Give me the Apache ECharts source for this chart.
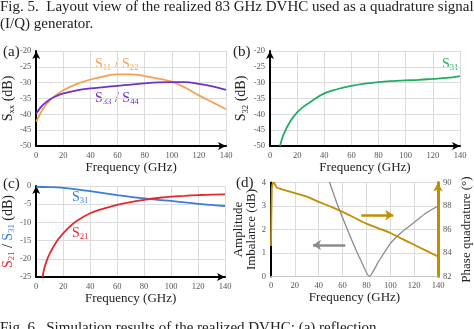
<!DOCTYPE html>
<html><head><meta charset="utf-8">
<script src="https://cdn.jsdelivr.net/npm/echarts@6/dist/echarts.min.js"></script>
<style>html,body{margin:0;padding:0;background:#fff}#c{width:474px;height:329px}</style>
</head><body><div id="c"></div>
<script>
// ---- data ----
const freqTicks = [0, 20, 40, 60, 80, 100, 120, 140];
// (a) reflection
const fA = [0, 2, 5, 10, 15, 20, 30, 40, 50, 60, 70, 80, 90, 100, 110, 120, 130, 140];
const s11 = [-42.3, -40.6, -38.3, -35.6, -33.8, -32.4, -30.4, -29.0, -28.0, -27.4, -27.4, -27.9, -28.7, -29.7, -31.6, -34.0, -36.2, -38.4];
const s33 = [-39.7, -38.5, -37.0, -35.3, -34.2, -33.4, -32.4, -31.8, -31.4, -31.0, -30.6, -30.2, -29.9, -29.8, -29.8, -30.4, -31.2, -32.3];
// (b) isolation
const fB = [7.4, 10, 15, 20, 25, 30, 40, 50, 60, 70, 80, 90, 100, 110, 120, 130, 140];
const s31b = [-50, -46.3, -42.2, -39.4, -37.5, -36.0, -33.4, -32.0, -31.0, -30.3, -29.8, -29.5, -29.3, -29.1, -28.8, -28.5, -27.9];
// (c) transmission
const fC1 = [0, 10, 20, 30, 40, 50, 60, 70, 80, 90, 100, 110, 120, 130, 140];
const s31c = [-0.2, -0.3, -0.5, -0.9, -1.4, -1.95, -2.5, -3.0, -3.4, -3.8, -4.1, -4.5, -4.9, -5.2, -5.5];
const fC2 = [4.7, 6, 8, 10, 15, 20, 25, 30, 40, 50, 60, 70, 80, 90, 100, 110, 120, 130, 140];
const s21c = [-25, -22.6, -20.3, -18.6, -15.3, -13.0, -11.1, -9.6, -7.5, -6.2, -5.2, -4.4, -3.8, -3.3, -2.9, -2.7, -2.5, -2.35, -2.3];
// (d) amplitude imbalance and phase
const fD1 = [48.5, 55, 60, 65, 70, 75, 82.5, 90, 100, 110, 120, 130, 140];
const ampImb = [4.1, 3.15, 2.5, 1.88, 1.28, 0.72, 0, 0.62, 1.4, 1.9, 2.3, 2.7, 3.0];
const fD2 = [0, 0.7, 1.5, 2.5, 3.5, 5, 10, 20, 30, 40, 50, 60, 70, 80, 90, 100, 110, 120, 130, 140];
const phase = [84.6, 89.5, 89.95, 90.0, 89.8, 89.55, 89.4, 89.1, 88.8, 88.35, 87.95, 87.5, 87.0, 86.5, 86.1, 85.7, 85.2, 84.7, 84.2, 83.7];

const zip = (x, y) => x.map((v, i) => [v, y[i]]);

const SERIF = 'Liberation Serif';
const C = {orange:'#F4A251', purple:'#7330C8', green:'#22AD64', blue:'#3B7DDD', red:'#E52A2F', gray:'#8C8C8C', gold:'#BF8F00'};

function rich(color, size) {
  return {
    s: {fontFamily: SERIF, fontSize: size, color: color, fill: color, lineHeight: 16, verticalAlign: 'middle'},
    sub: {fontFamily: SERIF, fontSize: size * 0.62, color: color, fill: color, lineHeight: 10, verticalAlign: 'bottom'}
  };
}

const axisLbl = {fontFamily: SERIF, fontSize: 8.5, color: '#555', margin: 5};
const split = {show: true, lineStyle: {color: '#dcdcdc', width: 1}};
const blackAxis = {onZero: false, lineStyle: {color: '#000', width: 2}, symbol: ['none', 'arrow'], symbolSize: [6, 8]};
const xName = {fontFamily: SERIF, fontSize: 13, color: '#222'};

function xAx(grid, line) {
  return {type: 'value', gridIndex: grid, min: 0, max: 140, interval: 20,
    name: 'Frequency (GHz)', nameLocation: 'middle', nameGap: 15, nameTextStyle: xName,
    axisLine: line || blackAxis, axisTick: {show: false}, axisLabel: axisLbl, splitLine: split};
}

const chart = echarts.init(document.getElementById('c'), null, {renderer: 'canvas'});
const option = {
  animation: false,
  backgroundColor: '#fff',
  grid: [
    {left: 36, top: 51, width: 190, height: 95},
    {left: 270, top: 51, width: 190, height: 95},
    {left: 36, top: 186, width: 189, height: 91},
    {left: 271, top: 182.5, width: 167, height: 94}
  ],
  xAxis: [
    xAx(0), xAx(1), xAx(2),
    xAx(3, {onZero: false, lineStyle: {color: '#c8c8c8', width: 1}})
  ],
  yAxis: [
    {type: 'value', gridIndex: 0, min: -50, max: -20, interval: 5,
      name: '{s|S}{sub|xx}{s| (dB)}', nameLocation: 'middle', nameRotate: 90, nameGap: 17,
      nameTextStyle: {rich: rich('#222', 14)},
      axisLine: blackAxis, axisTick: {show: false}, axisLabel: axisLbl, splitLine: split},
    {type: 'value', gridIndex: 1, min: -50, max: -20, interval: 5,
      name: '{s|S}{sub|32}{s| (dB)}', nameLocation: 'middle', nameRotate: 90, nameGap: 17,
      nameTextStyle: {rich: rich('#222', 14)},
      axisLine: blackAxis, axisTick: {show: false}, axisLabel: axisLbl, splitLine: split},
    {type: 'value', gridIndex: 2, min: -25, max: 0, interval: 5,
      name: '{r|S}{rs|21}{k| / }{b|S}{bs|31}{k| (dB)}', nameLocation: 'middle', nameRotate: 90, nameGap: 17,
      nameTextStyle: {rich: {
        r: rich(C.red, 14).s, rs: rich(C.red, 14).sub,
        b: rich(C.blue, 14).s, bs: rich(C.blue, 14).sub,
        k: rich('#222', 14).s}},
      axisLine: blackAxis, axisTick: {show: false}, axisLabel: axisLbl, splitLine: split},
    {type: 'value', gridIndex: 3, min: 0, max: 4, interval: 1,
      name: 'Amplitude\nImbalance (dB)', nameLocation: 'middle', nameRotate: 90, nameGap: 11,
      nameTextStyle: {fontFamily: SERIF, fontSize: 13, color: '#222', lineHeight: 13},
      axisLine: {onZero: false, lineStyle: {color: '#000', width: 2}}, axisTick: {show: false}, axisLabel: axisLbl, splitLine: split},
    {type: 'value', gridIndex: 3, position: 'right', min: 82, max: 90, interval: 2,
      name: 'Phase quadrature (°)', nameLocation: 'middle', nameRotate: 90, nameGap: 22,
      nameTextStyle: {fontFamily: SERIF, fontSize: 13, color: '#222'},
      axisLine: {show: true, onZero: false, lineStyle: {color: C.gold, width: 3}, symbol: ['none', 'arrow'], symbolSize: [7, 9]},
      axisTick: {show: false}, axisLabel: axisLbl, splitLine: {show: false}}
  ],
  series: [
    {type: 'line', xAxisIndex: 0, yAxisIndex: 0, data: zip(fA, s11), smooth: 0.4, showSymbol: false, lineStyle: {color: C.orange, width: 1.8}},
    {type: 'line', xAxisIndex: 0, yAxisIndex: 0, data: zip(fA, s33), smooth: 0.4, showSymbol: false, lineStyle: {color: C.purple, width: 1.8}},
    {type: 'line', xAxisIndex: 1, yAxisIndex: 1, data: zip(fB, s31b), smooth: 0.4, showSymbol: false, lineStyle: {color: C.green, width: 1.8}},
    {type: 'line', xAxisIndex: 2, yAxisIndex: 2, data: zip(fC1, s31c), smooth: 0.4, showSymbol: false, lineStyle: {color: C.blue, width: 1.8}},
    {type: 'line', xAxisIndex: 2, yAxisIndex: 2, data: zip(fC2, s21c), smooth: 0.4, showSymbol: false, lineStyle: {color: C.red, width: 1.8}},
    {type: 'line', xAxisIndex: 3, yAxisIndex: 3, data: zip(fD1, ampImb), smooth: 0.2, showSymbol: false, lineStyle: {color: C.gray, width: 1.3},
      markLine: {silent: true, symbol: ['none', 'arrow'], symbolSize: [8, 8], label: {show: false},
        lineStyle: {color: C.gray, width: 2.5, type: 'solid'},
        data: [[{coord: [62.3, 1.34]}, {coord: [35.2, 1.34]}]]}},
    {type: 'line', xAxisIndex: 3, yAxisIndex: 4, data: zip(fD2, phase), smooth: 0.2, showSymbol: false, lineStyle: {color: C.gold, width: 1.8},
      markLine: {silent: true, symbol: ['none', 'arrow'], symbolSize: [8, 8], label: {show: false},
        lineStyle: {color: C.gold, width: 2.5, type: 'solid'},
        data: [[{coord: [75.7, 87.23]}, {coord: [102.5, 87.23]}]]}}
  ],
  graphic: [
    {type: 'text', left: 0, top: 0, style: {text: 'Fig. 5.  Layout view of the realized 83 GHz DVHC used as a quadrature signal', font: '15px "Liberation Serif"', fill: '#222'}},
    {type: 'text', left: 0, top: 17, style: {text: '(I/Q) generator.', font: '15px "Liberation Serif"', fill: '#222'}},
    {type: 'text', left: 0, top: 321, style: {text: 'Fig. 6.  Simulation results of the realized DVHC: (a) reflection', font: '15px "Liberation Serif"', fill: '#222'}},
    {type: 'text', left: 3, top: 45, style: {text: '(a)', font: '15px "Liberation Serif"', fill: '#222'}},
    {type: 'text', left: 233, top: 45, style: {text: '(b)', font: '15px "Liberation Serif"', fill: '#222'}},
    {type: 'text', left: 3, top: 177, style: {text: '(c)', font: '15px "Liberation Serif"', fill: '#222'}},
    {type: 'text', left: 236, top: 176, style: {text: '(d)', font: '15px "Liberation Serif"', fill: '#222'}},
    {type: 'text', left: 95, top: 57, style: {text: '{s|S}{sub|11}{s| / S}{sub|22}', fill: C.orange, rich: rich(C.orange, 14)}},
    {type: 'text', left: 95, top: 91, style: {text: '{s|S}{sub|33}{s| / S}{sub|44}', fill: C.purple, rich: rich(C.purple, 14)}},
    {type: 'text', left: 442, top: 57, style: {text: '{s|S}{sub|31}', fill: C.green, rich: rich(C.green, 14)}},
    {type: 'text', left: 72, top: 190, style: {text: '{s|S}{sub|31}', fill: C.blue, rich: rich(C.blue, 14)}},
    {type: 'text', left: 72, top: 226, style: {text: '{s|S}{sub|21}', fill: C.red, rich: rich(C.red, 14)}}
  ]
};
chart.setOption(option);
</script>
</body></html>
